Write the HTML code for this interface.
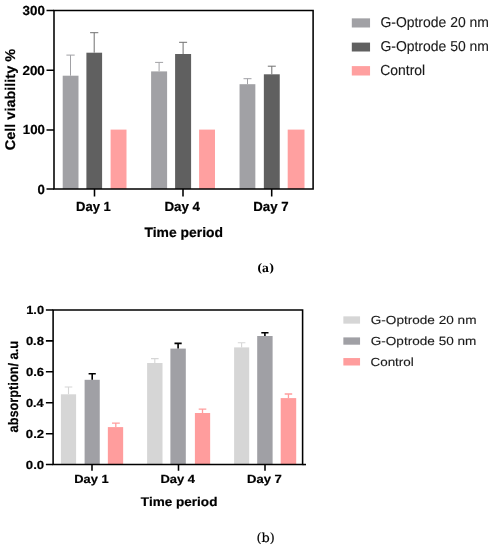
<!DOCTYPE html>
<html><head><meta charset="utf-8">
<style>
html,body{margin:0;padding:0;background:#fff;}
svg{display:block;}
text{text-rendering:geometricPrecision;}
</style></head>
<body>
<svg width="494" height="550" viewBox="0 0 494 550">
<rect width="494" height="550" fill="#fff"/>
<!-- TOP CHART -->
<g id="top">
 <g fill="#a1a1a5">
  <rect x="62.7" y="75.7" width="15.8" height="113.3"/>
  <rect x="151.1" y="71.4" width="16" height="117.6"/>
  <rect x="239.55" y="84.2" width="15.8" height="104.8"/>
 </g>
 <g fill="#606060">
  <rect x="86.4" y="52.7" width="15.7" height="136.3"/>
  <rect x="175.1" y="54" width="16" height="135"/>
  <rect x="263.85" y="74.3" width="15.9" height="114.7"/>
 </g>
 <g fill="#ffa0a0">
  <rect x="110.6" y="129.6" width="15.9" height="59.4"/>
  <rect x="199.1" y="129.6" width="15.9" height="59.4"/>
  <rect x="287.7" y="129.6" width="16.8" height="59.4"/>
 </g>
 <g stroke="#a1a1a5" stroke-width="1" fill="none">
  <path d="M70.5 75.7V55.1M66.4 55.1H74.7"/>
  <path d="M159.1 71.4V62.4M155.1 62.4H163.1"/>
  <path d="M247.5 84.2V78.7M243.5 78.7H251.5"/>
 </g>
 <g stroke="#707070" stroke-width="1" fill="none">
  <path d="M94.2 52.7V32.7M90.1 32.7H98.3"/>
  <path d="M183.1 54V42.3M179.1 42.3H187.1"/>
  <path d="M271.8 74.3V66.2M267.8 66.2H275.8"/>
 </g>
 <g stroke="#000" stroke-width="1.55" fill="none">
  <path d="M54 10.5V189H313.1V10.5Z"/>
  <path d="M46.5 10.5H54M46.5 70.2H54M46.5 130H54M46.5 189H54"/>
  <path d="M94.5 189V196.6M183 189V196.6M271.7 189V196.6"/>
 </g>
 <rect x="351.8" y="18.35" width="18.25" height="9.15" fill="#a1a1a5"/>
 <rect x="351.8" y="42.6" width="18.25" height="8.9" fill="#606060"/>
 <rect x="351.8" y="66.1" width="18.25" height="9.4" fill="#ffa0a0"/>
</g>
<!-- BOTTOM CHART -->
<g id="bot">
 <g fill="#d6d6d6">
  <rect x="60.9" y="394.3" width="15.2" height="70.2"/>
  <rect x="147.1" y="363" width="15.4" height="101.5"/>
  <rect x="234.1" y="347.4" width="15.1" height="117.1"/>
 </g>
 <g fill="#a0a0a5">
  <rect x="84.6" y="379.8" width="15.15" height="84.7"/>
  <rect x="170.4" y="348.6" width="15.4" height="115.9"/>
  <rect x="257.2" y="336" width="15.4" height="128.5"/>
 </g>
 <g fill="#ff9d9d">
  <rect x="107.85" y="427.1" width="15.3" height="37.4"/>
  <rect x="194.9" y="413" width="15.25" height="51.5"/>
  <rect x="280.7" y="398.1" width="15.5" height="66.4"/>
 </g>
 <g stroke="#d6d6d6" stroke-width="1.1" fill="none">
  <path d="M68.5 394.3V387M64.7 387H72.3"/>
  <path d="M154.8 363V358.6M151 358.6H158.6"/>
  <path d="M241.6 347.4V342.8M237.8 342.8H245.4"/>
 </g>
 <g stroke="#000" stroke-width="1.6" fill="none">
  <path d="M92.2 379.8V373.8M88.6 373.8H95.8"/>
  <path d="M178.1 348.6V343.4M174.5 343.4H181.7"/>
  <path d="M264.9 336V332.8M261.3 332.8H268.5"/>
 </g>
 <g stroke="#ff9d9d" stroke-width="1.3" fill="none">
  <path d="M115.8 427.1V423.2M112 423.2H119.8"/>
  <path d="M202.5 413V409.2M198.7 409.2H206.3"/>
  <path d="M288.45 398.1V394M284.7 394H292.2"/>
 </g>
 <g stroke="#000" stroke-width="1.55" fill="none">
  <path d="M53.1 309.9V464.55H302.6V309.9Z"/>
  <path d="M302.6 464.55H306"/>
  <path d="M45.9 309.9H53.1M45.9 340.85H53.1M45.9 371.8H53.1M45.9 402.7H53.1M45.9 433.65H53.1M45.9 464.55H53.1"/>
  <path d="M92 464.55V470.8M178.5 464.55V470.8M265 464.55V470.8"/>
 </g>
 <rect x="343.35" y="316.35" width="16.7" height="7.3" fill="#d6d6d6"/>
 <rect x="343.35" y="337.4" width="16.7" height="7.3" fill="#a0a0a5"/>
 <rect x="343.35" y="358.05" width="16.7" height="7.45" fill="#ff9d9d"/>
</g>

<g>
<text transform="translate(22.57 15.10) scale(1.017 1)" style="font-family:'Liberation Sans',sans-serif;font-weight:bold;font-size:13.14px;fill:#000;stroke:#000;stroke-width:0.2px">300</text>
<text transform="translate(22.43 74.50) scale(1.023 1)" style="font-family:'Liberation Sans',sans-serif;font-weight:bold;font-size:13.14px;fill:#000;stroke:#000;stroke-width:0.2px">200</text>
<text transform="translate(22.81 134.20) scale(1.006 1)" style="font-family:'Liberation Sans',sans-serif;font-weight:bold;font-size:13.14px;fill:#000;stroke:#000;stroke-width:0.2px">100</text>
<text transform="translate(37.57 193.50) scale(0.990 1)" style="font-family:'Liberation Sans',sans-serif;font-weight:bold;font-size:13.29px;fill:#000;stroke:#000;stroke-width:0.2px">0</text>
<text transform="translate(76.05 211.00) scale(0.989 1)" style="font-family:'Liberation Sans',sans-serif;font-weight:bold;font-size:13.19px;fill:#000;stroke:#000;stroke-width:0.2px">Day 1</text>
<text transform="translate(164.43 211.00) scale(1.012 1)" style="font-family:'Liberation Sans',sans-serif;font-weight:bold;font-size:13.19px;fill:#000;stroke:#000;stroke-width:0.2px">Day 4</text>
<text transform="translate(253.24 211.00) scale(1.004 1)" style="font-family:'Liberation Sans',sans-serif;font-weight:bold;font-size:13.19px;fill:#000;stroke:#000;stroke-width:0.2px">Day 7</text>
<text transform="translate(144.46 237.20) scale(1.018 1)" style="font-family:'Liberation Sans',sans-serif;font-weight:bold;font-size:13.66px;fill:#000;stroke:#000;stroke-width:0.2px">Time period</text>
<text transform="translate(380.40 27.30) scale(0.973 1)" style="font-family:'Liberation Sans',sans-serif;font-weight:normal;font-size:14.34px;fill:#1a1a1a;stroke:#1a1a1a;stroke-width:0.12px">G-Optrode 20 nm</text>
<text transform="translate(380.40 51.40) scale(0.973 1)" style="font-family:'Liberation Sans',sans-serif;font-weight:normal;font-size:14.34px;fill:#1a1a1a;stroke:#1a1a1a;stroke-width:0.12px">G-Optrode 50 nm</text>
<text transform="translate(380.30 75.40) scale(0.963 1)" style="font-family:'Liberation Sans',sans-serif;font-weight:normal;font-size:14.48px;fill:#1a1a1a;stroke:#1a1a1a;stroke-width:0.12px">Control</text>
<text transform="translate(256.97 272.15) scale(0.914 1)" style="font-family:'DejaVu Serif',serif;font-weight:bold;font-size:11.91px;fill:#000">(a)</text>
<text transform="translate(26.23 314.10) scale(1.092 1)" style="font-family:'Liberation Sans',sans-serif;font-weight:bold;font-size:11.71px;fill:#000;stroke:#000;stroke-width:0.2px">1.0</text>
<text transform="translate(25.88 345.10) scale(1.112 1)" style="font-family:'Liberation Sans',sans-serif;font-weight:bold;font-size:11.71px;fill:#000;stroke:#000;stroke-width:0.2px">0.8</text>
<text transform="translate(25.88 376.00) scale(1.117 1)" style="font-family:'Liberation Sans',sans-serif;font-weight:bold;font-size:11.71px;fill:#000;stroke:#000;stroke-width:0.2px">0.6</text>
<text transform="translate(25.89 407.00) scale(1.092 1)" style="font-family:'Liberation Sans',sans-serif;font-weight:bold;font-size:11.71px;fill:#000;stroke:#000;stroke-width:0.2px">0.4</text>
<text transform="translate(25.87 438.00) scale(1.121 1)" style="font-family:'Liberation Sans',sans-serif;font-weight:bold;font-size:11.71px;fill:#000;stroke:#000;stroke-width:0.2px">0.2</text>
<text transform="translate(25.87 468.90) scale(1.121 1)" style="font-family:'Liberation Sans',sans-serif;font-weight:bold;font-size:11.71px;fill:#000;stroke:#000;stroke-width:0.2px">0.0</text>
<text transform="translate(74.26 483.20) scale(1.098 1)" style="font-family:'Liberation Sans',sans-serif;font-weight:bold;font-size:11.74px;fill:#000;stroke:#000;stroke-width:0.2px">Day 1</text>
<text transform="translate(160.46 483.20) scale(1.104 1)" style="font-family:'Liberation Sans',sans-serif;font-weight:bold;font-size:11.74px;fill:#000;stroke:#000;stroke-width:0.2px">Day 4</text>
<text transform="translate(247.05 483.20) scale(1.111 1)" style="font-family:'Liberation Sans',sans-serif;font-weight:bold;font-size:11.74px;fill:#000;stroke:#000;stroke-width:0.2px">Day 7</text>
<text transform="translate(140.86 506.00) scale(1.080 1)" style="font-family:'Liberation Sans',sans-serif;font-weight:bold;font-size:12.55px;fill:#000;stroke:#000;stroke-width:0.2px">Time period</text>
<text transform="translate(370.72 323.90) scale(1.146 1)" style="font-family:'Liberation Sans',sans-serif;font-weight:normal;font-size:11.86px;fill:#1a1a1a;stroke:#1a1a1a;stroke-width:0.12px">G-Optrode 20 nm</text>
<text transform="translate(370.72 344.80) scale(1.145 1)" style="font-family:'Liberation Sans',sans-serif;font-weight:normal;font-size:11.86px;fill:#1a1a1a;stroke:#1a1a1a;stroke-width:0.12px">G-Optrode 50 nm</text>
<text transform="translate(370.43 365.70) scale(1.135 1)" style="font-family:'Liberation Sans',sans-serif;font-weight:normal;font-size:11.86px;fill:#1a1a1a;stroke:#1a1a1a;stroke-width:0.12px">Control</text>
<text transform="translate(256.52 542.35) scale(1.020 1)" style="font-family:'DejaVu Serif',serif;font-weight:normal;font-size:12.61px;fill:#000;stroke:#111;stroke-width:0.22px">(b)</text>
<text transform="translate(15.40 150.18) rotate(-90) scale(1.028 1)" style="font-family:'Liberation Sans',sans-serif;font-weight:bold;font-size:14.07px;fill:#000;stroke:#000;stroke-width:0.2px">Cell viability %</text>
<text transform="translate(18.30 432.38) rotate(-90) scale(0.925 1)" style="font-family:'Liberation Sans',sans-serif;font-weight:bold;font-size:13.79px;fill:#000;stroke:#000;stroke-width:0.2px">absorption/ a.u</text>
</g>
</svg>
</body></html>
